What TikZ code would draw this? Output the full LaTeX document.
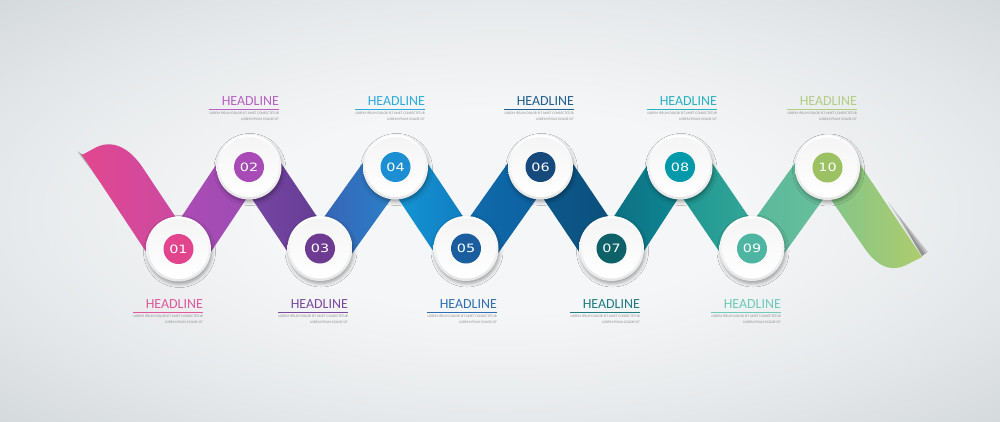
\documentclass[tikz,border=0pt]{standalone}
\usepackage{graphicx}
\usepackage{fontspec}
\setmainfont{Carlito}
\newfontfamily\numfont{DejaVu Sans}
\usetikzlibrary{calc,shadows.blur}
\definecolor{bgin}{HTML}{F5F6F7}
\definecolor{bgmid}{HTML}{E6E9EB}
\definecolor{bgout}{HTML}{D4D9DC}
\pgfdeclareradialshading{bgshade}{\pgfpoint{0bp}{0bp}}{color(0bp)=(bgin); color(12bp)=(bgin); color(25bp)=(bgmid); color(36bp)=(bgout); color(50bp)=(bgout)}
% ribbon colours
\definecolor{s0a}{HTML}{E2478F}\definecolor{s0b}{HTML}{C64AA6}
\definecolor{s1a}{HTML}{B04CB5}\definecolor{s1b}{HTML}{984CB3}
\definecolor{s2a}{HTML}{7E49A7}\definecolor{s2b}{HTML}{5E3A90}
\definecolor{s3a}{HTML}{3C5CB2}\definecolor{s3b}{HTML}{2688CC}
\definecolor{s4a}{HTML}{169AD8}\definecolor{s4b}{HTML}{0F78BC}
\definecolor{s5a}{HTML}{0F6DB0}\definecolor{s5b}{HTML}{0E5E9C}
\definecolor{s6a}{HTML}{0D5A90}\definecolor{s6b}{HTML}{0A4E76}
\definecolor{s7a}{HTML}{0B6A80}\definecolor{s7b}{HTML}{108C96}
\definecolor{s8a}{HTML}{16928F}\definecolor{s8b}{HTML}{3CAA9A}
\definecolor{s9a}{HTML}{55B79C}\definecolor{s9b}{HTML}{6DC09A}
\definecolor{s10a}{HTML}{7AC48F}\definecolor{s10b}{HTML}{AECC6E}
% dot colours
\definecolor{d1}{HTML}{E2458E}\definecolor{d2}{HTML}{A84BB6}
\definecolor{d3}{HTML}{6D3B91}\definecolor{d4}{HTML}{1C8FD2}
\definecolor{d5}{HTML}{1A5E9F}\definecolor{d6}{HTML}{174A7C}
\definecolor{d7}{HTML}{0E6169}\definecolor{d8}{HTML}{0099A9}
\definecolor{d9}{HTML}{4DB5A2}\definecolor{d10}{HTML}{9BC163}
% headline colours
\definecolor{h1}{HTML}{E0579C}\definecolor{h2}{HTML}{B660C4}
\definecolor{h3}{HTML}{7B49A0}\definecolor{h4}{HTML}{2AAAE0}
\definecolor{h5}{HTML}{2D70B1}\definecolor{h6}{HTML}{1F5E8E}
\definecolor{h7}{HTML}{1B7C85}\definecolor{h8}{HTML}{27B2C2}
\definecolor{h9}{HTML}{6ECBB8}\definecolor{h10}{HTML}{B2CE82}
\newcommand\ribbonseg[4]{\shade[left color=#3,right color=#4]
  ($(#1)!22pt!90:(#2)$) -- ($(#1)!22pt!-90:(#2)$) --
  ($(#2)!22pt!90:(#1)$) -- ($(#2)!22pt!-90:(#1)$) -- cycle;}
\newcommand\numtxt[1]{{\numfont\fontsize{11.5}{11.5}\selectfont\scalebox{1.25}[1]{#1}}}
\begin{document}
\begin{tikzpicture}[x=1pt,y=-1pt,
  plate/.style={circle, minimum size=65pt, inner sep=0pt, top color=white, bottom color=black!10,
    blur shadow={shadow xshift=1pt, shadow yshift=-2.5pt, shadow blur radius=3.5pt, shadow opacity=35}},
  platein/.style={circle, minimum size=60pt, inner sep=0pt, top color=black!4, bottom color=white},
  dot/.style={circle, minimum size=30pt, inner sep=0pt, text=white},
  head/.style={font=\fontsize{13.9}{14}\selectfont, anchor=base east, inner sep=0pt},
  tinytxt/.style={font=\fontsize{3.6}{4}\selectfont, text=black!45, anchor=east, inner sep=0pt},
  uline/.style={line width=1.3pt},
  curl/.style={fill=black!75, opacity=0.22}]
\useasboundingbox (0,0) rectangle (1000,421);
\shade[shading=bgshade] (0,0) rectangle (1000,421);
% circle centres
\foreach \i/\x/\y in {1/178.5/249, 2/249/167, 3/320/248.5, 4/395.5/167, 5/466/248.5,
  6/540.5/167, 7/611.5/248.5, 8/680/167, 9/752/248.5, 10/827.5/167.5}
  \coordinate (c\i) at (\x,\y);
% fold vertices
\foreach \i in {1,3,5,7,9} \coordinate (v\i) at ($(c\i)+(0,12)$);
\foreach \i in {2,4,6,8,10} \coordinate (v\i) at ($(c\i)+(0,-12)$);
% end shadows (curl of the ribbon ends)
\fill[curl] (77,151) -- (84,155) -- (100,182) -- cycle;
\fill[curl] (79,153) -- (84,155) -- (96,175) -- cycle;
\fill[curl] (81,154) -- (84,155) -- (92,168) -- cycle;
\fill[curl] (888,202) -- (922,256) -- (928,252) -- cycle;
\fill[curl] (898,215) -- (922,256) -- (926,253) -- cycle;
\fill[curl] (906,228) -- (922,256) -- (924,254) -- cycle;
% left end of ribbon
\shade[left color=s0a, right color=s0b] (82,155) -- (93,149) .. controls (113,137) and (130.8,149.7) .. (143,168)
  -- (196.8,248.8) -- (160.2,273.2) -- cycle;
% ribbon segments
\ribbonseg{v1}{v2}{s1a}{s1b}
\ribbonseg{v2}{v3}{s2a}{s2b}
\ribbonseg{v3}{v4}{s3a}{s3b}
\ribbonseg{v4}{v5}{s4a}{s4b}
\ribbonseg{v5}{v6}{s5a}{s5b}
\ribbonseg{v6}{v7}{s6a}{s6b}
\ribbonseg{v7}{v8}{s7a}{s7b}
\ribbonseg{v8}{v9}{s8a}{s8b}
\ribbonseg{v9}{v10}{s9a}{s9b}
% right end of ribbon
\shade[left color=s10a, right color=s10b] (845.8,143.3) -- (922,257) -- (910,263) .. controls (890,275) and (875.2,264.3) .. (863,246)
  -- (809.2,167.7) -- cycle;
% plates and numbers
\foreach \i/\t in {1/01,2/02,3/03,4/04,5/05,6/06,7/07,8/08,9/09,10/10} {
  \node[plate] (p\i) at (c\i) {};
  \node[platein] (q\i) at (c\i) {};
  \node[dot, fill=d\i] (n\i) at (c\i) {\numtxt{\t}};
}
% headlines, top
\foreach \i/\xr in {2/279, 4/425, 6/574, 8/717, 10/857} {
  \node[head, text=h\i] (hd\i) at (\xr,105.3) {HEADLINE};
  \draw[uline, h\i] (\xr-70,109.3) -- (\xr,109.3);
  \node[tinytxt] (ta\i) at (\xr,113.6) {LOREM IPSUM DOLOR SIT AMET CONSECTETUR};
  \node[tinytxt] (tb\i) at (\xr,119.3) {LOREM IPSUM DOLOR SIT};
}
% headlines, bottom
\foreach \i/\xr in {1/203, 3/348, 5/497, 7/640, 9/781} {
  \node[head, text=h\i] (hd\i) at (\xr,308.3) {HEADLINE};
  \draw[uline, h\i] (\xr-70,312.3) -- (\xr,312.3);
  \node[tinytxt] (ta\i) at (\xr,316.7) {LOREM IPSUM DOLOR SIT AMET CONSECTETUR};
  \node[tinytxt] (tb\i) at (\xr,322.7) {LOREM IPSUM DOLOR SIT};
}
\end{tikzpicture}
\end{document}
